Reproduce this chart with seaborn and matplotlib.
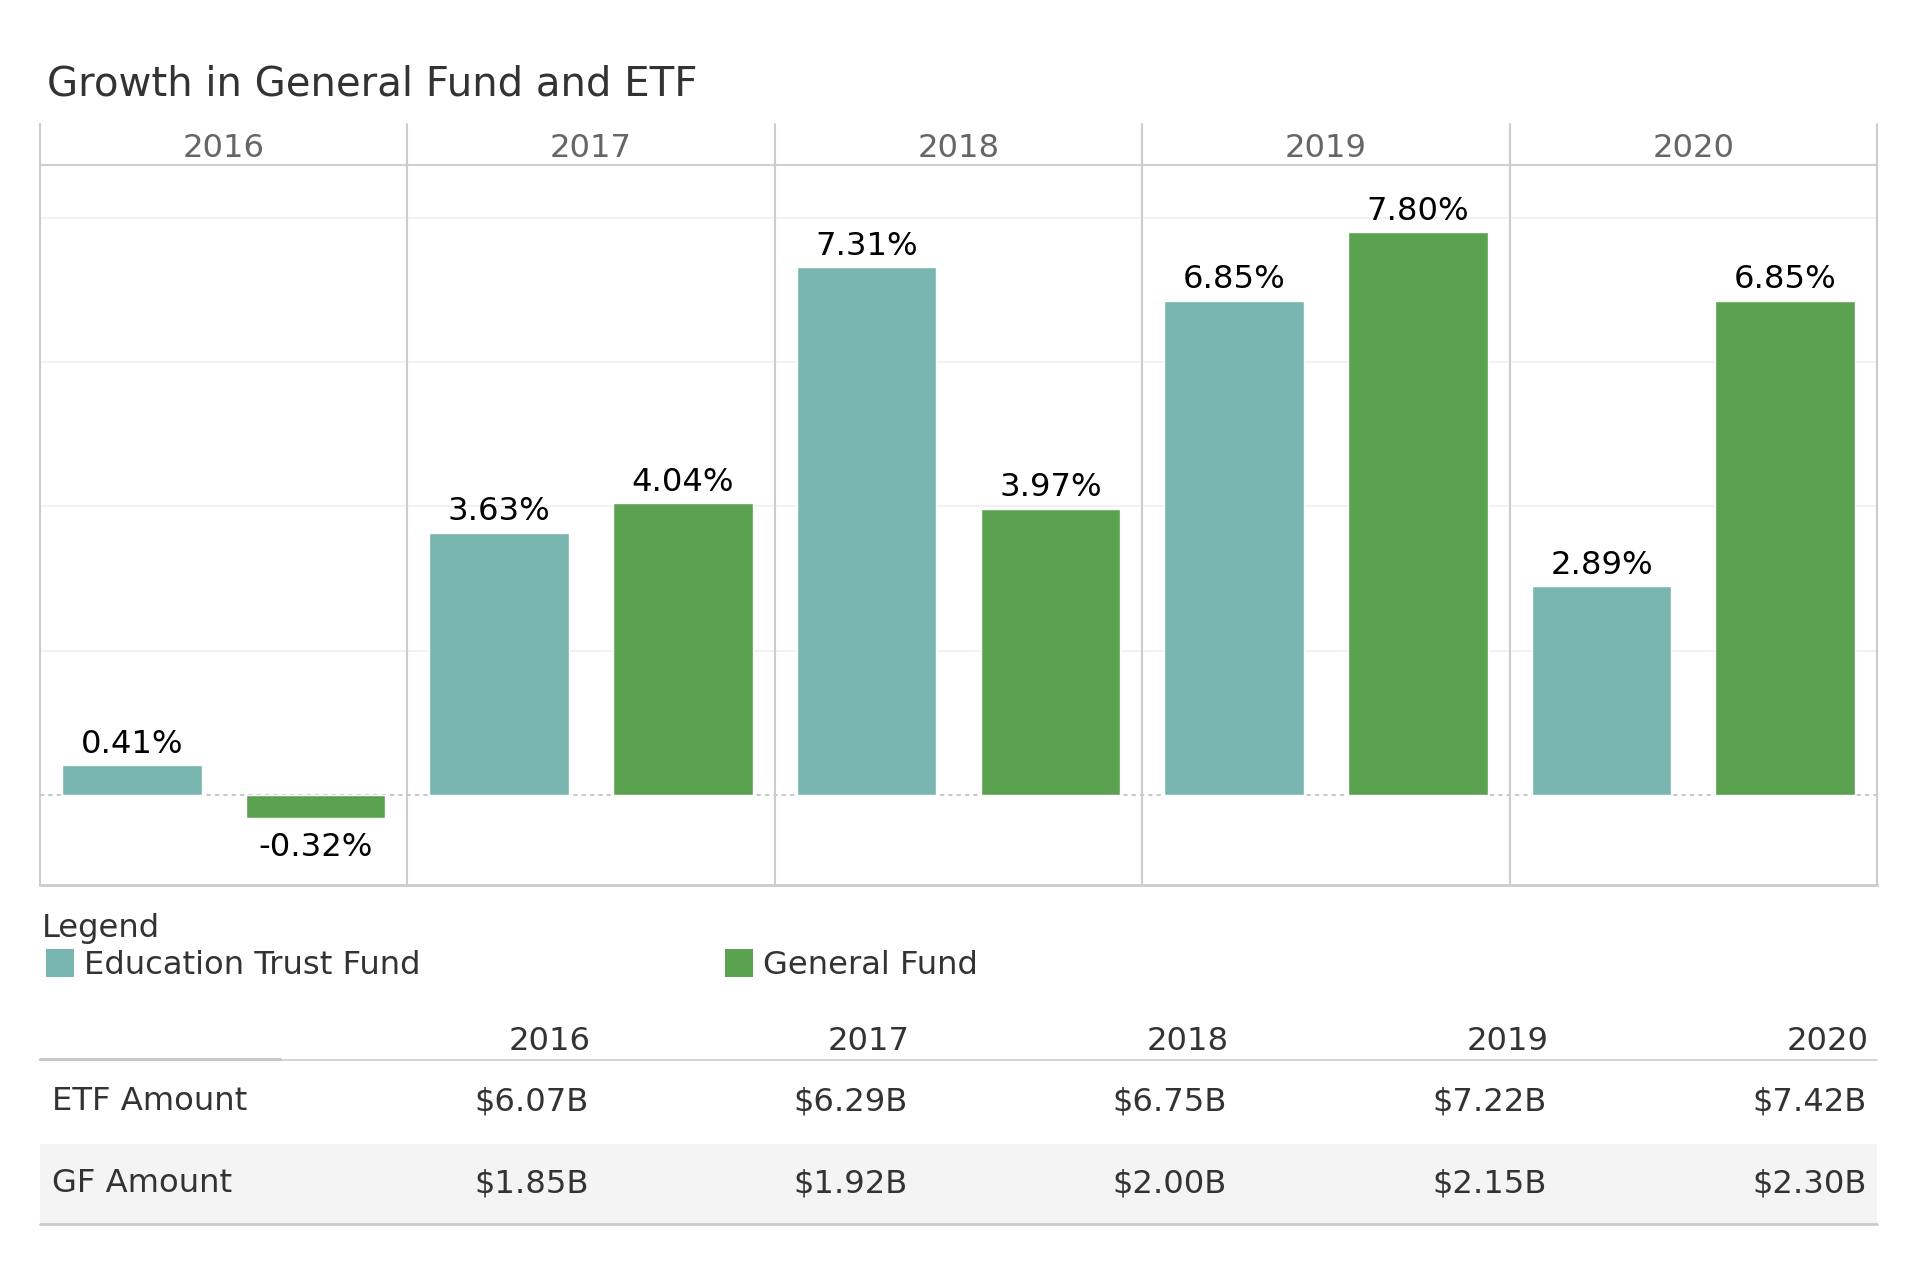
import matplotlib
matplotlib.use("Agg")
import matplotlib.pyplot as plt
import matplotlib.transforms as mtransforms
from matplotlib.patches import Rectangle
from matplotlib.lines import Line2D
import pandas as pd
import seaborn as sns

years = ["2016", "2017", "2018", "2019", "2020"]
etf_growth = [0.41, 3.63, 7.31, 6.85, 2.89]
gf_growth = [-0.32, 4.04, 3.97, 7.80, 6.85]
funds = ["Education Trust Fund", "General Fund"]
etf_amount = ["$6.07B", "$6.29B", "$6.75B", "$7.22B", "$7.42B"]
gf_amount = ["$1.85B", "$1.92B", "$2.00B", "$2.15B", "$2.30B"]
row_names = ["ETF Amount", "GF Amount"]

teal = "#79B6B0"
green = "#5AA150"
fs = 23.2

sns.set_theme(style="white")
plt.rcParams["font.family"] = ["DejaVu Sans"]

W, H = 1908, 1263
fig = plt.figure(figsize=(W / 100, H / 100), dpi=100)


def fx(px):
    return px / W


def fy(py):
    return 1 - py / H


# plot area
left, right, top, bottom = 40, 1877, 165, 885
ax = fig.add_axes([fx(left), fy(bottom), fx(right - left), (bottom - top) / H])

rows = []
for i, y in enumerate(years):
    rows.append({"slot": y + " ETF", "year": y, "fund": funds[0], "growth": etf_growth[i]})
    rows.append({"slot": y + " GF", "year": y, "fund": funds[1], "growth": gf_growth[i]})
df = pd.DataFrame(rows)

sns.barplot(data=df, x="slot", y="growth", hue="fund", dodge=False, width=0.76,
            palette={funds[0]: teal, funds[1]: green}, saturation=1,
            legend=False, ax=ax, zorder=3)

ax.set_xlim(-0.5, 9.5)
ax.set_ylim(-1.247, 8.73)
ax.set_yticks([2, 4, 6, 8])
ax.set_yticklabels([])
ax.set_xticks([])
ax.set_xlabel("")
ax.set_ylabel("")
ax.tick_params(length=0)
ax.yaxis.grid(True, color="#efefef", lw=1.2, zorder=0)
ax.axhline(0, color="#bdbdbd", lw=1.2, ls=(0, (2.5, 2.5)), zorder=2)
for s in ["left", "right"]:
    ax.spines[s].set_visible(False)
ax.spines["top"].set_color("#d0d0d0")
ax.spines["top"].set_linewidth(1.5)
ax.spines["bottom"].set_color("#cccccc")
ax.spines["bottom"].set_linewidth(2)

# value labels
for i, v in enumerate(df["growth"]):
    if v >= 0:
        ax.annotate(f"{v:.2f}%", (i, v), xytext=(0, 4), textcoords="offset points",
                    ha="center", va="bottom", fontsize=fs, color="black")
    else:
        ax.annotate(f"{v:.2f}%", (i, v), xytext=(0, -10), textcoords="offset points",
                    ha="center", va="top", fontsize=fs, color="black")

# facet separators and header
blend = mtransforms.blended_transform_factory(ax.transData, fig.transFigure)
for xb in [-0.5, 1.5, 3.5, 5.5, 7.5, 9.5]:
    fig.add_artist(Line2D([xb, xb], [fy(124), fy(bottom)], transform=blend,
                          color="#cccccc", lw=1.5, zorder=5))
for i, y in enumerate(years):
    fig.text(2 * i + 0.5, fy(148.5), y, transform=blend, ha="center", va="center",
             fontsize=fs, color="#666666")

fig.text(fx(47), fy(85), "Growth in General Fund and ETF", ha="left", va="center",
         fontsize=29, color="#333333")

# legend
fig.text(fx(42), fy(928), "Legend", ha="left", va="center", fontsize=fs, color="#333333")
for (px, c, name) in [(46, teal, funds[0]), (725, green, funds[1])]:
    fig.add_artist(Rectangle((fx(px), fy(977)), fx(28), 28 / H, transform=fig.transFigure,
                             facecolor=c, edgecolor="none"))
    fig.text(fx(px + 38), fy(966), name, ha="left", va="center", fontsize=fs, color="#333333")

# table
col_x = [591, 910, 1229, 1549, 1869]
for x, y in zip(col_x, years):
    fig.text(fx(x), fy(1042), y, ha="right", va="center", fontsize=fs, color="#333333")
fig.add_artist(Line2D([fx(40), fx(1877)], [fy(1059.5), fy(1059.5)], color="#cccccc", lw=1.2))
fig.add_artist(Line2D([fx(40), fx(280)], [fy(1058.5), fy(1058.5)], color="#c8c8c8", lw=2.2))
fig.add_artist(Rectangle((fx(40), fy(1224)), fx(1837), 80 / H, transform=fig.transFigure,
                         facecolor="#f4f4f4", edgecolor="none", zorder=0))
fig.add_artist(Line2D([fx(40), fx(1877)], [fy(1224), fy(1224)], color="#cccccc", lw=2))
for ry, name, vals in [(1102, row_names[0], etf_amount), (1184, row_names[1], gf_amount)]:
    fig.text(fx(52), fy(ry), name, ha="left", va="center", fontsize=fs, color="#333333")
    for x, v in zip(col_x, vals):
        fig.text(fx(x - 2), fy(ry), v, ha="right", va="center", fontsize=fs, color="#333333")

fig.savefig("out.png", dpi=100, facecolor="white")
